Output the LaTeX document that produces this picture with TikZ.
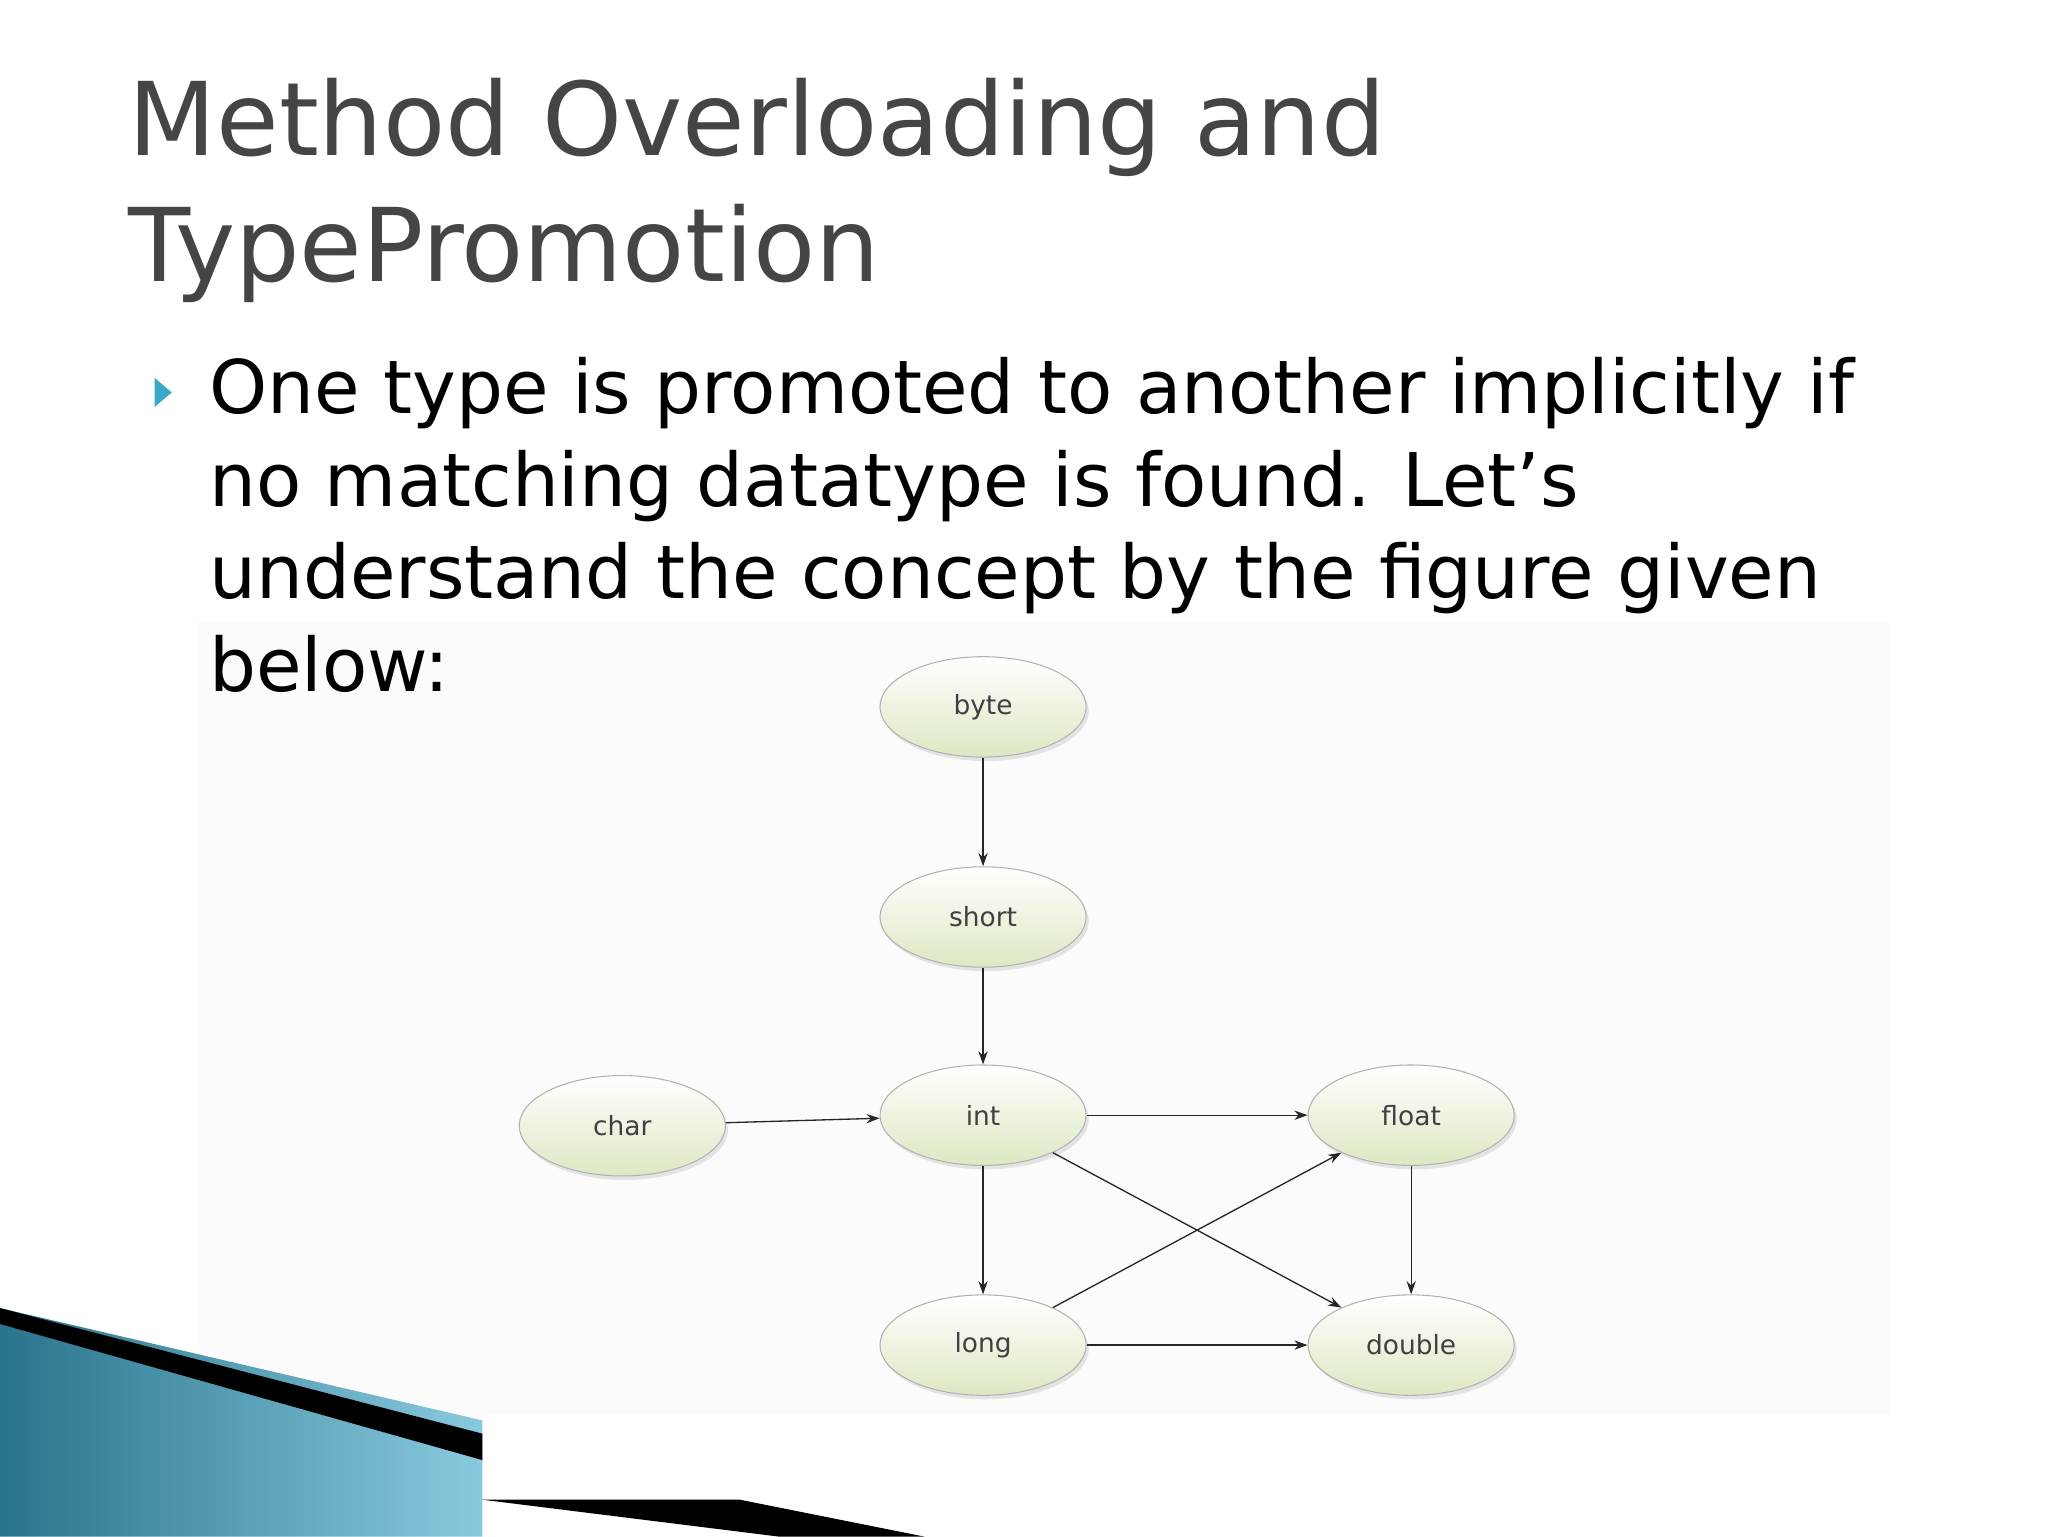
\documentclass[tikz,border=0pt]{standalone}
\usepackage{fontspec}
\setmainfont{DejaVu Sans}
\usetikzlibrary{shapes.geometric,arrows.meta,shadows}
\definecolor{nodefill}{HTML}{DCE8C2}
\definecolor{titlegray}{HTML}{454545}
\definecolor{bulletblue}{HTML}{3AA6C8}
\begin{document}
\begin{tikzpicture}[x=0.5pt,y=-0.5pt,
  tnode/.style={ellipse,minimum width=78pt,minimum height=38pt,draw=gray!60,
    top color=white,bottom color=nodefill,font=\fontsize{10}{12}\selectfont,text=black!75,
    drop shadow={shadow xshift=1pt,shadow yshift=-1.5pt,fill=gray!40}},
  conn/.style={-{Stealth[length=5pt,width=3.5pt]},black!85,line width=0.5pt},
  bodytext/.style={anchor=base west,inner sep=0,font=\fontsize{28}{32}\selectfont}]
\useasboundingbox (0,0) rectangle (1550,1163);
\fill[white] (0,0) rectangle (1550,1163);
% figure panel
\fill[gray!3] (150,470) rectangle (1430,1135);
\fill[white] (365,1070) rectangle (1430,1135);
% swoosh
\shade[left color=bulletblue!70!black,right color=bulletblue!60] (0,990) -- (365,1075) -- (365,1163) -- (0,1163) -- cycle;
\fill[black] (0,990) -- (365,1085) -- (365,1105) -- (0,1002) -- cycle;
\fill[black] (365,1135) -- (560,1135) -- (700,1163) -- (590,1163) -- cycle;
% title
\node[anchor=base west,inner sep=0,text=titlegray,font=\fontsize{38.5}{46}\selectfont] (t1) at (97,118) {Method Overloading and};
\node[anchor=base west,inner sep=0,text=titlegray,font=\fontsize{38.5}{46}\selectfont] (t2) at (97,213) {TypePromotion};
% bullet
\fill[bulletblue] (117,286) -- (130,297) -- (117,308) -- cycle;
\node[bodytext] (b1) at (158,313) {One type is promoted to another implicitly if};
\node[bodytext] (b2) at (158,383) {no matching datatype is found. Let\char39 s};
\node[bodytext] (b3) at (158,453) {understand the concept by the figure given};
\node[bodytext] (b4) at (158,523) {below:};
% nodes
\node[tnode] (byte) at (744,535) {byte};
\node[tnode] (short) at (744,694) {short};
\node[tnode] (int) at (744,844) {int};
\node[tnode] (char) at (471,852) {char};
\node[tnode] (float) at (1068,844) {float};
\node[tnode] (long) at (744,1018) {long};
\node[tnode] (double) at (1068,1018) {double};
\draw[conn] (byte) -- (short);
\draw[conn] (short) -- (int);
\draw[conn] (char) -- (int);
\draw[conn] (int) -- (float);
\draw[conn] (int) -- (long);
\draw[conn] (int) -- (double);
\draw[conn] (long) -- (float);
\draw[conn] (long) -- (double);
\draw[conn] (float) -- (double);
\end{tikzpicture}
\end{document}
